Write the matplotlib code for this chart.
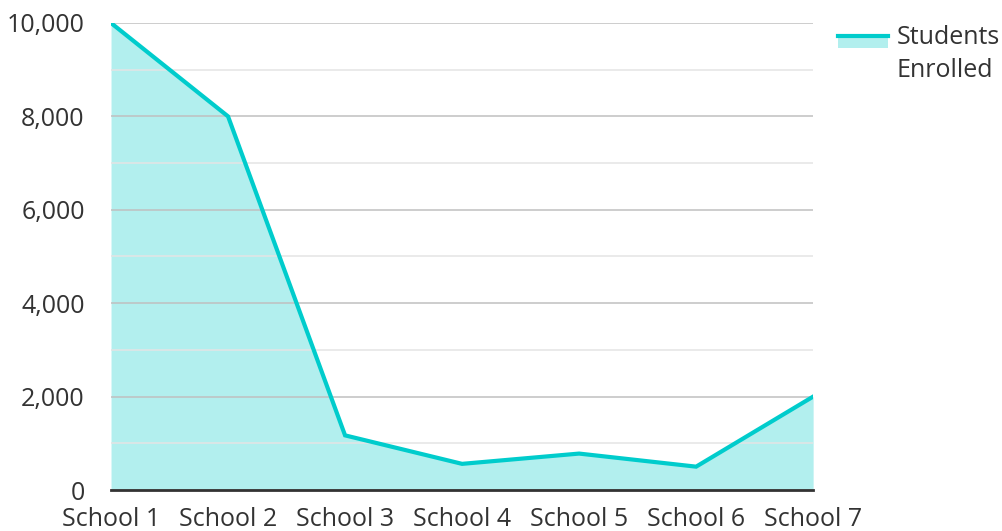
import matplotlib.pyplot as plt
from matplotlib.legend_handler import HandlerBase
from matplotlib.lines import Line2D
from matplotlib.patches import Rectangle
from matplotlib.ticker import FuncFormatter, MultipleLocator

schools = ['School 1', 'School 2', 'School 3', 'School 4', 'School 5', 'School 6', 'School 7']
enrolled = [10000, 8000, 1170, 560, 780, 500, 2000]

LINE = '#00cccc'
FILL = '#b2efee'
TEXT = '#333333'

plt.rcParams['font.family'] = ['Open Sans', 'DejaVu Sans']


class AreaHandler(HandlerBase):
    """Línea arriba y relleno debajo, alineados con la primera línea del texto"""
    def create_artists(self, legend, orig_handle, xdescent, ydescent,
                       width, height, fontsize, trans):
        top = height + 7.5
        rect = Rectangle((-xdescent, -ydescent + top - 9), width, 9,
                         facecolor=FILL, edgecolor='none', transform=trans)
        line = Line2D([-xdescent, -xdescent + width], [top, top],
                      color=LINE, linewidth=3, transform=trans)
        return [rect, line]


fig = plt.figure(figsize=(10.03, 5.31), dpi=100)
ax = fig.add_axes([0.1107, 0.0772, 0.7, 0.8795])

x = range(len(schools))
ax.fill_between(x, enrolled, 0, color=FILL, linewidth=0, zorder=2)
ax.plot(x, enrolled, color=LINE, linewidth=3, zorder=3, solid_joinstyle='miter')

ax.set_xlim(0, len(schools) - 1)
ax.set_ylim(0, 10000)
ax.yaxis.set_major_locator(MultipleLocator(2000))
ax.yaxis.set_minor_locator(MultipleLocator(1000))
ax.yaxis.set_major_formatter(FuncFormatter(lambda v, p: f'{int(v):,}'))
ax.grid(True, which='major', axis='y', color='#c0c0c0', linewidth=1.1, zorder=1)
ax.grid(True, which='minor', axis='y', color='#e4e4e4', linewidth=1.1, zorder=1)
ax.set_axisbelow(False)

ax.set_xticks(list(x))
ax.set_xticklabels(schools)
ax.tick_params(axis='both', which='both', length=0, labelsize=18, colors=TEXT)
ax.tick_params(axis='y', pad=19)
ax.tick_params(axis='x', pad=12)

for side in ['top', 'right', 'left']:
    ax.spines[side].set_visible(False)
ax.spines['bottom'].set_color(TEXT)
ax.spines['bottom'].set_linewidth(2)
ax.spines['bottom'].set_zorder(4)

proxy = Rectangle((0, 0), 1, 1)
leg = fig.legend([proxy], ['Students\nEnrolled'], handler_map={Rectangle: AreaHandler()},
                 loc='upper left', bbox_to_anchor=(0.823, 0.977), frameon=False,
                 fontsize=18, handlelength=2.0, handleheight=0.7, handletextpad=0.36,
                 labelcolor=TEXT, borderpad=0)
for t in leg.get_texts():
    t.set_linespacing(1.45)

fig.savefig('out.png', dpi=100)
